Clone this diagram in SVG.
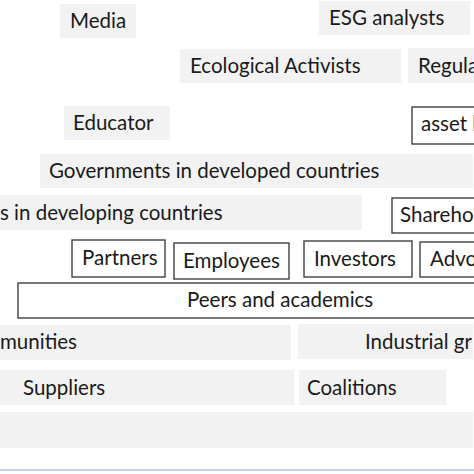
<svg xmlns="http://www.w3.org/2000/svg" width="474" height="474" viewBox="0 0 474 474">
<style>
.g{fill:#f2f2f2;stroke:none}
.b{fill:#ffffff;stroke:#404040;stroke-width:1.4}
text{font-family:Lato,"Open Sans","Liberation Sans",sans-serif;font-size:20.5px;fill:#1a1a1a}
</style>
<rect x="0" y="0" width="474" height="474" fill="#ffffff"/>
<g id="media"><rect class="g" x="60" y="4" width="76" height="34"/><text x="70" y="28">Media</text></g>
<g id="esg"><rect class="g" x="319" y="1" width="151" height="34"/><text x="329" y="25">ESG analysts</text></g>
<g id="ecological"><rect class="g" x="180" y="49" width="221" height="34"/><text x="190" y="73">Ecological Activists</text></g>
<g id="regula"><rect class="g" x="408" y="48" width="70" height="35"/><text x="418" y="73">Regula</text></g>
<g id="educator"><rect class="g" x="64" y="106" width="106" height="34"/><text x="73" y="130">Educator</text></g>
<g id="asset"><rect class="b" x="412" y="107" width="70" height="37"/><text x="421" y="131">asset l</text></g>
<g id="gov-developed"><rect class="g" x="40" y="154" width="433" height="34"/><text x="49" y="178">Governments in developed countries</text></g>
<g id="gov-developing"><rect class="g" x="0" y="195" width="362" height="35"/><text x="0" y="220">s in developing countries</text></g>
<g id="shareho"><rect class="b" x="392" y="198" width="90" height="35"/><text x="400" y="222">Shareho</text></g>
<g id="partners"><rect class="b" x="72" y="240" width="93" height="37"/><text x="82" y="265">Partners</text></g>
<g id="employees"><rect class="b" x="174" y="243" width="115" height="36"/><text x="183" y="268">Employees</text></g>
<g id="investors"><rect class="b" x="304" y="241" width="108" height="36"/><text x="314" y="266">Investors</text></g>
<g id="advo"><rect class="b" x="420" y="242" width="62" height="35"/><text x="430" y="266">Advo</text></g>
<g id="peers"><rect class="b" x="18" y="283" width="464" height="35"/><text x="187" y="307">Peers and academics</text></g>
<g id="communities"><rect class="g" x="0" y="325" width="291" height="35"/><text x="0" y="349">munities</text></g>
<g id="industrial"><rect class="g" x="298" y="324" width="175" height="35"/><text x="365" y="349">Industrial gr</text></g>
<g id="suppliers"><rect class="g" x="0" y="370" width="294" height="35"/><text x="23" y="395">Suppliers</text></g>
<g id="coalitions"><rect class="g" x="299" y="370" width="147" height="35"/><text x="307" y="395">Coalitions</text></g>
<g id="empty-row"><rect class="g" x="0" y="412" width="473" height="36"/></g>
<g id="connectors"><line x1="0" y1="470" x2="474" y2="470" stroke="#a9c4e0" stroke-width="1.5"/></g>
</svg>
